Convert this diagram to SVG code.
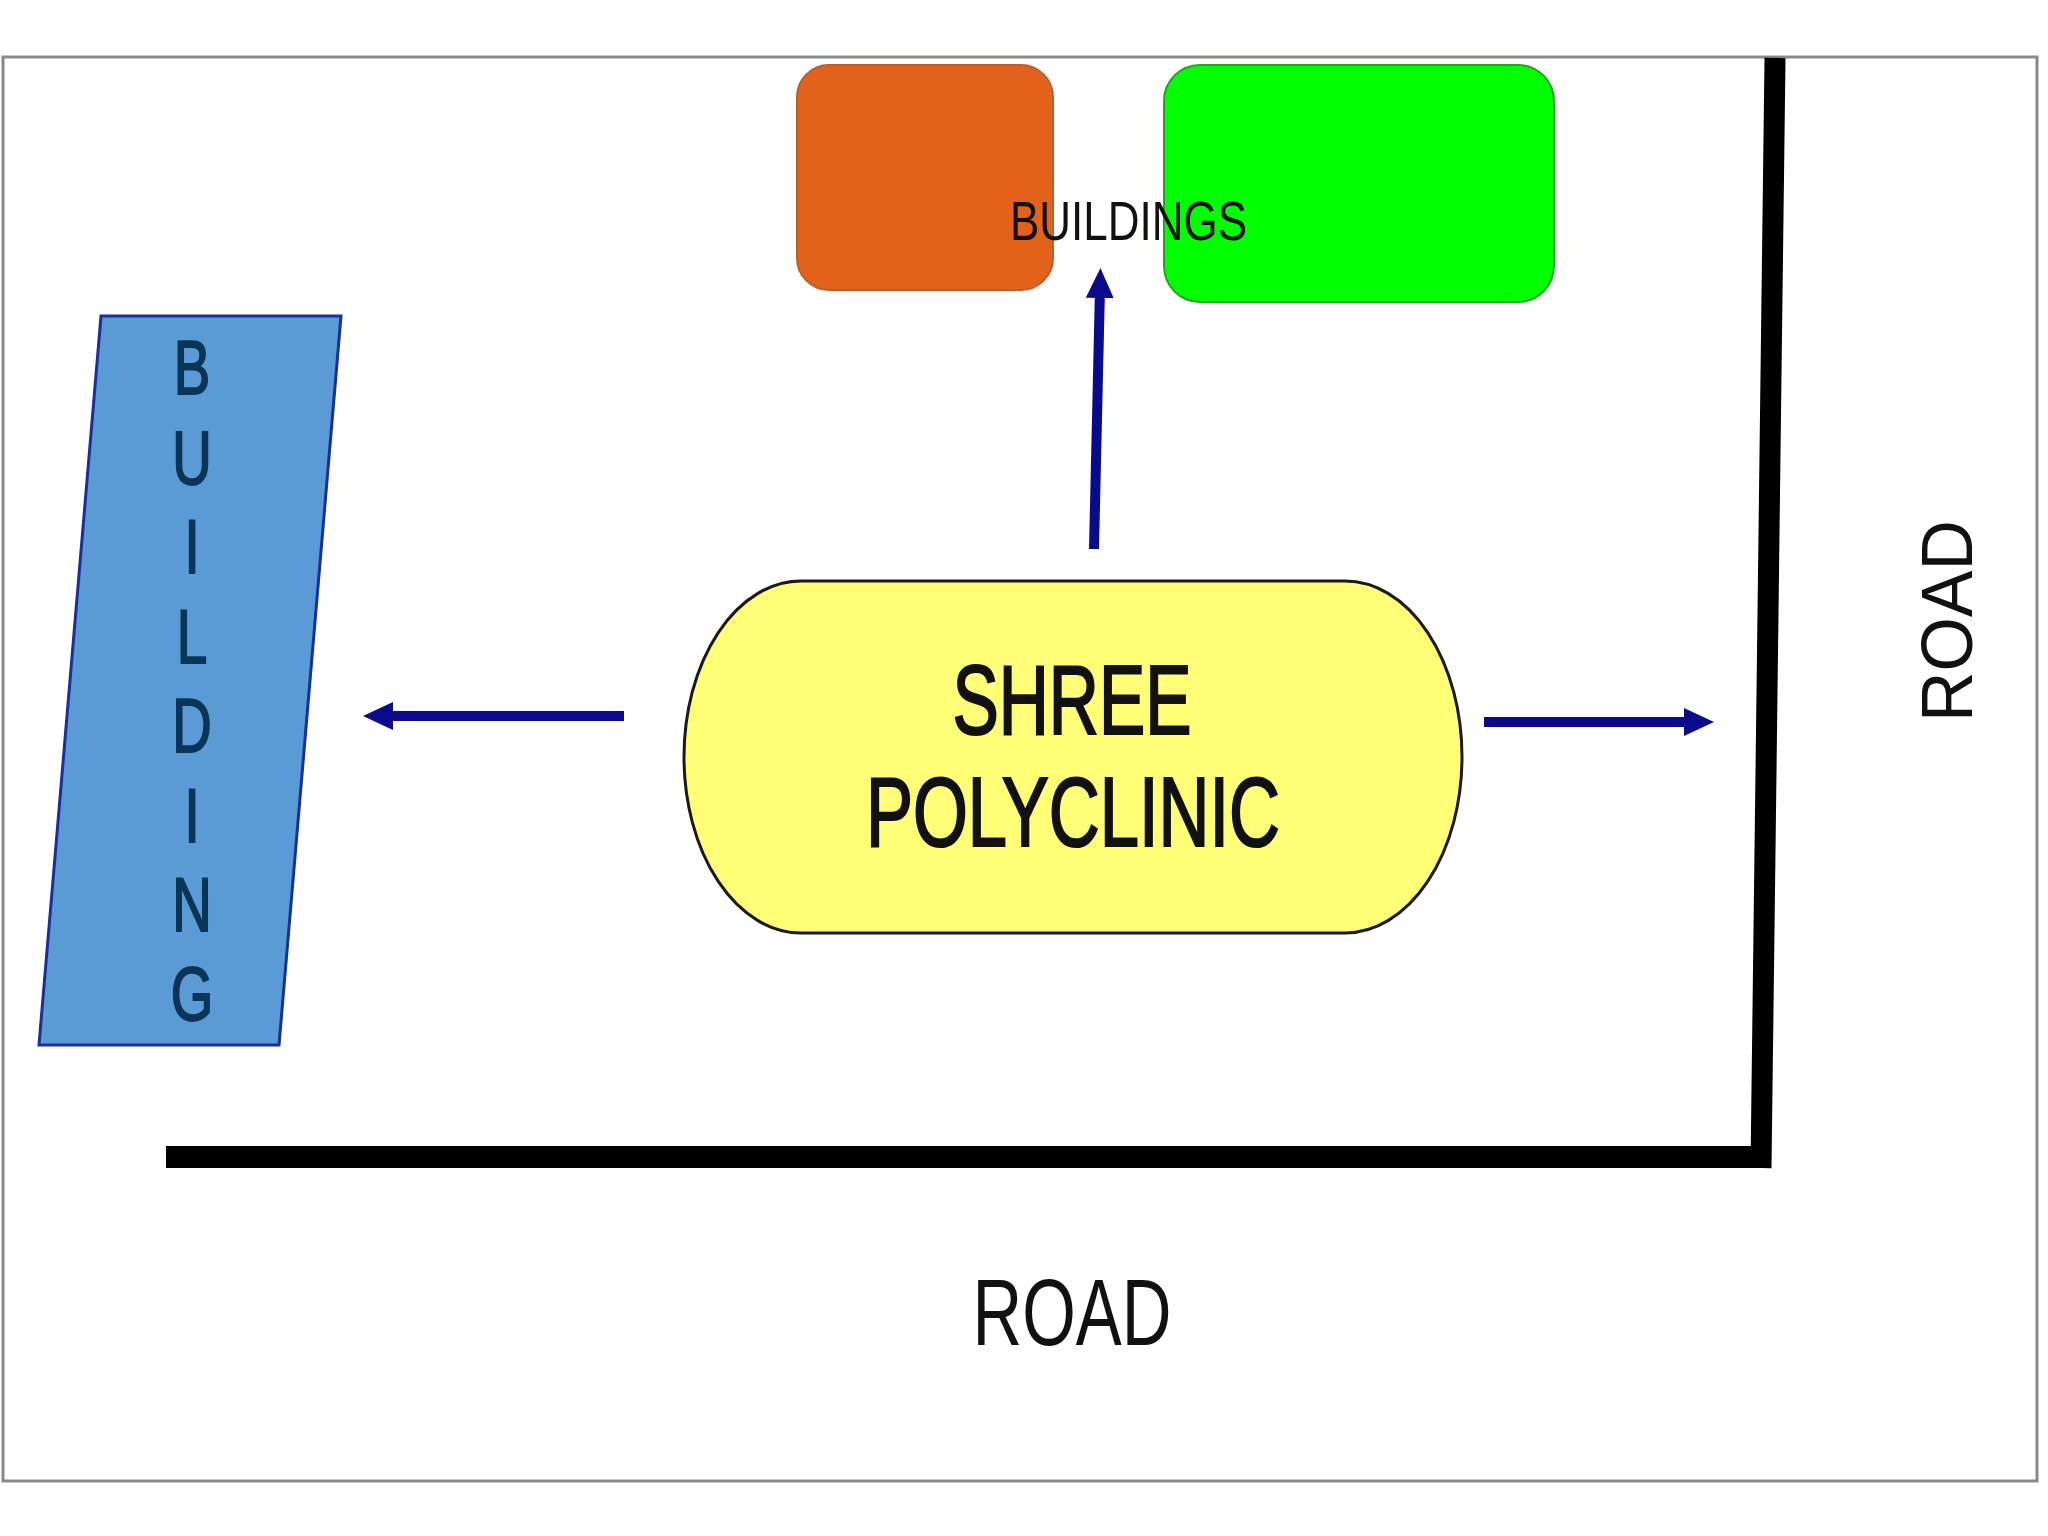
<svg xmlns="http://www.w3.org/2000/svg" width="2048" height="1536" viewBox="0 0 2048 1536">
<style>
.lbl{font-family:"Liberation Sans",Arial,sans-serif;fill:#111}
.thick{stroke:#111;stroke-width:2.2}
.conn{stroke:#0a0a8c;stroke-width:10;fill:none}
.road{stroke:#000;fill:none}
</style>
<defs>
<marker id="ah" markerUnits="userSpaceOnUse" markerWidth="34" markerHeight="34" refX="10" refY="16" orient="auto">
<path d="M0,2 L30,16 L0,30 z" fill="#0a0a8c"/>
</marker>
</defs>
<rect width="2048" height="1536" fill="#fff"/>
<rect id="frame" x="3" y="57" width="2034" height="1424" fill="#fff" stroke="#8a8a8a" stroke-width="3"/>

<g id="roads">
<line class="road" x1="166" y1="1157" x2="1770" y2="1157" stroke-width="22"/>
<line class="road" x1="1775" y1="58" x2="1761" y2="1168" stroke-width="21"/>
<text class="lbl" x="1072" y="1345" font-size="94" text-anchor="middle" textLength="199" lengthAdjust="spacingAndGlyphs">ROAD</text>
<text class="lbl" transform="translate(1972,621) rotate(-90)" x="0" y="0" font-size="72" text-anchor="middle" textLength="202" lengthAdjust="spacingAndGlyphs">ROAD</text>
</g>

<g id="building-orange">
<rect x="797" y="65" width="256" height="225" rx="32" fill="#E2621B" stroke="#b8602e" stroke-width="2"/>
</g>
<g id="building-green">
<rect x="1164" y="65" width="390" height="237" rx="36" fill="#00FF00" stroke="#2e9e2e" stroke-width="2"/>
</g>
<g id="buildings-label">
<text class="lbl" x="1010" y="240" font-size="56" textLength="237" lengthAdjust="spacingAndGlyphs">BUILDINGS</text>
</g>

<g id="building-left">
<polygon points="101,316 341,316 279,1045 39,1045" fill="#5B9BD5" stroke="#1a2f9a" stroke-width="3"/>
<g class="lbl" font-size="76" text-anchor="middle" style="fill:#0b3556;stroke:#0b3556;stroke-width:2">
<text transform="translate(192,394) scale(0.72,1)">B</text>
<text transform="translate(192,484) scale(0.72,1)">U</text>
<text transform="translate(192,573) scale(0.72,1)">I</text>
<text transform="translate(192,663) scale(0.72,1)">L</text>
<text transform="translate(192,752) scale(0.72,1)">D</text>
<text transform="translate(192,842) scale(0.72,1)">I</text>
<text transform="translate(192,931) scale(0.72,1)">N</text>
<text transform="translate(192,1020) scale(0.72,1)">G</text>
</g>
</g>

<g id="polyclinic">
<rect x="684" y="581" width="778" height="352" rx="117" ry="176" fill="#FFFF77" stroke="#1a1a1a" stroke-width="3"/>
<text class="lbl thick" x="1072" y="734" font-size="98" text-anchor="middle" textLength="239" lengthAdjust="spacingAndGlyphs">SHREE</text>
<text class="lbl thick" x="1073" y="846" font-size="98" text-anchor="middle" textLength="414" lengthAdjust="spacingAndGlyphs">POLYCLINIC</text>
</g>

<g id="connectors">
<line class="conn" x1="1094" y1="549" x2="1100" y2="288" marker-end="url(#ah)"/>
<line class="conn" x1="624" y1="716" x2="383" y2="716" marker-end="url(#ah)"/>
<line class="conn" x1="1484" y1="722" x2="1694" y2="722" marker-end="url(#ah)"/>
</g>
</svg>
